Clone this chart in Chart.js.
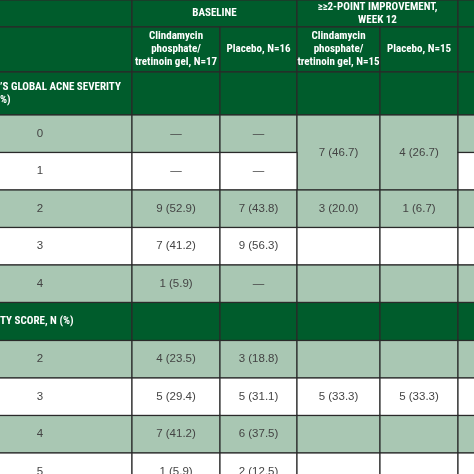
<!DOCTYPE html>
<html>
<head>
<meta charset="utf-8">
<script src="https://cdn.jsdelivr.net/npm/chart.js@4"></script>
<style>
  html, body { margin: 0; padding: 0; background: #fff; }
  #wrap { width: 474px; height: 474px; }
</style>
</head>
<body>
<div id="wrap"><canvas id="table"></canvas></div>
<script>
// table contents
const groupHeaders = ["BASELINE", "≥≥2-POINT IMPROVEMENT,\nWEEK 12"];
const armHeaders = ["Clindamycin\nphosphate/\ntretinoin gel, N=17", "Placebo, N=16", "Clindamycin\nphosphate/\ntretinoin gel, N=15", "Placebo, N=15"];
const section1Title = "’S GLOBAL ACNE SEVERITY\n%)";
const section2Title = "TY SCORE, N (%)";

const gradeLabels = ["0", "1", "2", "3", "4"];
const gradeBaseActive = ["—", "—", "9 (52.9)", "7 (41.2)", "1 (5.9)"];
const gradeBasePlacebo = ["—", "—", "7 (43.8)", "9 (56.3)", "—"];
const gradeWeekActive = ["7 (46.7)", null, "3 (20.0)", "", ""];
const gradeWeekPlacebo = ["4 (26.7)", null, "1 (6.7)", "", ""];

const scoreLabels = ["2", "3", "4", "5"];
const scoreBaseActive = ["4 (23.5)", "5 (29.4)", "7 (41.2)", "1 (5.9)"];
const scoreBasePlacebo = ["3 (18.8)", "5 (31.1)", "6 (37.5)", "2 (12.5)"];
const scoreWeekActive = ["", "5 (33.3)", "", ""];
const scoreWeekPlacebo = ["", "5 (33.3)", "", ""];

// layout (in scale units)
const colEdges = [-52, 132, 220, 297, 380, 458, 540];
const headerRows = [0, 27, 72];
const rowH = 37.5;

const DARK = "#005c2c";
const LIGHT = "#a9c7b3";
const LINE = "#2a2a2a";
const HEAD_FONT = "bold 11px 'Liberation Sans Narrow', 'Roboto Condensed', 'Liberation Sans', sans-serif";
const BODY_FONT = "11.5px 'Liberation Sans Narrow', 'Liberation Sans', 'DejaVu Sans', sans-serif";

function buildCells() {
  const cells = [];
  // header row 1
  cells.push({ c0: 0, c1: 2, r0: headerRows[0], r1: headerRows[1], fill: DARK, text: "", head: true });
  cells.push({ c0: 2, c1: 4, r0: headerRows[0], r1: headerRows[1], fill: DARK, text: groupHeaders[0], head: true });
  cells.push({ c0: 4, c1: 6, r0: headerRows[0], r1: headerRows[1], fill: DARK, text: groupHeaders[1], head: true });
  cells.push({ c0: 6, c1: 7, r0: headerRows[0], r1: headerRows[1], fill: DARK, text: "", head: true });
  // header row 2
  cells.push({ c0: 0, c1: 2, r0: headerRows[1], r1: headerRows[2], fill: DARK, text: "", head: true });
  armHeaders.forEach((t, i) => cells.push({ c0: i + 2, c1: i + 3, r0: headerRows[1], r1: headerRows[2], fill: DARK, text: t, head: true }));
  cells.push({ c0: 6, c1: 7, r0: headerRows[1], r1: headerRows[2], fill: DARK, text: "", head: true });

  function section(top, secH, title, labels, cols) {
    cells.push({ c0: 0, c1: 2, r0: top, r1: top + secH, fill: DARK, text: title, head: true, left: true });
    for (let c = 2; c < 7; c++) cells.push({ c0: c, c1: c + 1, r0: top, r1: top + secH, fill: DARK, text: "", head: true });
    const y = top + secH;
    labels.forEach((lab, i) => {
      const fill = i % 2 === 0 ? LIGHT : "#ffffff";
      const y0 = y + i * rowH, y1 = y0 + rowH;
      cells.push({ c0: 0, c1: 2, r0: y0, r1: y1, fill, text: lab });
      cols.forEach((arr, k) => {
        const v = arr[i];
        if (v === null) return;
        let span = 1;
        while (arr[i + span] === null) span++;
        const f = span > 1 ? LIGHT : fill;
        cells.push({ c0: k + 2, c1: k + 3, r0: y0, r1: y0 + rowH * span, fill: f, text: v });
      });
      cells.push({ c0: 6, c1: 7, r0: y0, r1: y1, fill, text: "" });
    });
    return y + labels.length * rowH;
  }
  const end1 = section(headerRows[2], 43, section1Title, gradeLabels, [gradeBaseActive, gradeBasePlacebo, gradeWeekActive, gradeWeekPlacebo]);
  section(end1, 38, section2Title, scoreLabels, [scoreBaseActive, scoreBasePlacebo, scoreWeekActive, scoreWeekPlacebo]);
  return cells;
}

const cells = buildCells();

const tablePlugin = {
  id: "tablePlugin",
  afterDraw(chart) {
    const ctx = chart.ctx;
    const xs = chart.scales.x, ys = chart.scales.y;
    ctx.save();
    cells.forEach((cell) => {
      const xa = xs.getPixelForValue(colEdges[Math.max(0, cell.c0 - 1)]);
      const xb = xs.getPixelForValue(colEdges[cell.c1 - 1]);
      const ya = ys.getPixelForValue(cell.r0);
      const yb = ys.getPixelForValue(cell.r1);
      ctx.fillStyle = cell.fill;
      ctx.fillRect(xa, ya, xb - xa, yb - ya);
      ctx.strokeStyle = LINE;
      ctx.lineWidth = 1.2;
      ctx.strokeRect(xa, ya, xb - xa, yb - ya);
      if (!cell.text) return;
      const lines = cell.text.split("\n");
      ctx.font = cell.head ? HEAD_FONT : BODY_FONT;
      ctx.fillStyle = cell.head ? "#ffffff" : "#444444";
      ctx.textBaseline = "middle";
      const lh = 13;
      const cy = (ya + yb) / 2 - ((lines.length - 1) * lh) / 2;
      lines.forEach((ln, i) => {
        if (cell.left) {
          ctx.textAlign = "left";
          ctx.fillText(ln, xs.getPixelForValue(0), cy + i * lh);
        } else {
          ctx.textAlign = "center";
          ctx.fillText(ln, (xa + xb) / 2, cy + i * lh);
        }
      });
    });
    ctx.restore();
  },
};

new Chart(document.getElementById("table"), {
  type: "scatter",
  data: { datasets: [{ data: [] }] },
  options: {
    responsive: true,
    maintainAspectRatio: false,
    animation: false,
    layout: { padding: 0 },
    scales: {
      x: { type: "linear", min: 0, max: 474, display: false },
      y: { type: "linear", min: 0, max: 474, reverse: true, display: false },
    },
    plugins: { legend: { display: false }, tooltip: { enabled: false } },
  },
  plugins: [tablePlugin],
});
</script>
</body>
</html>
